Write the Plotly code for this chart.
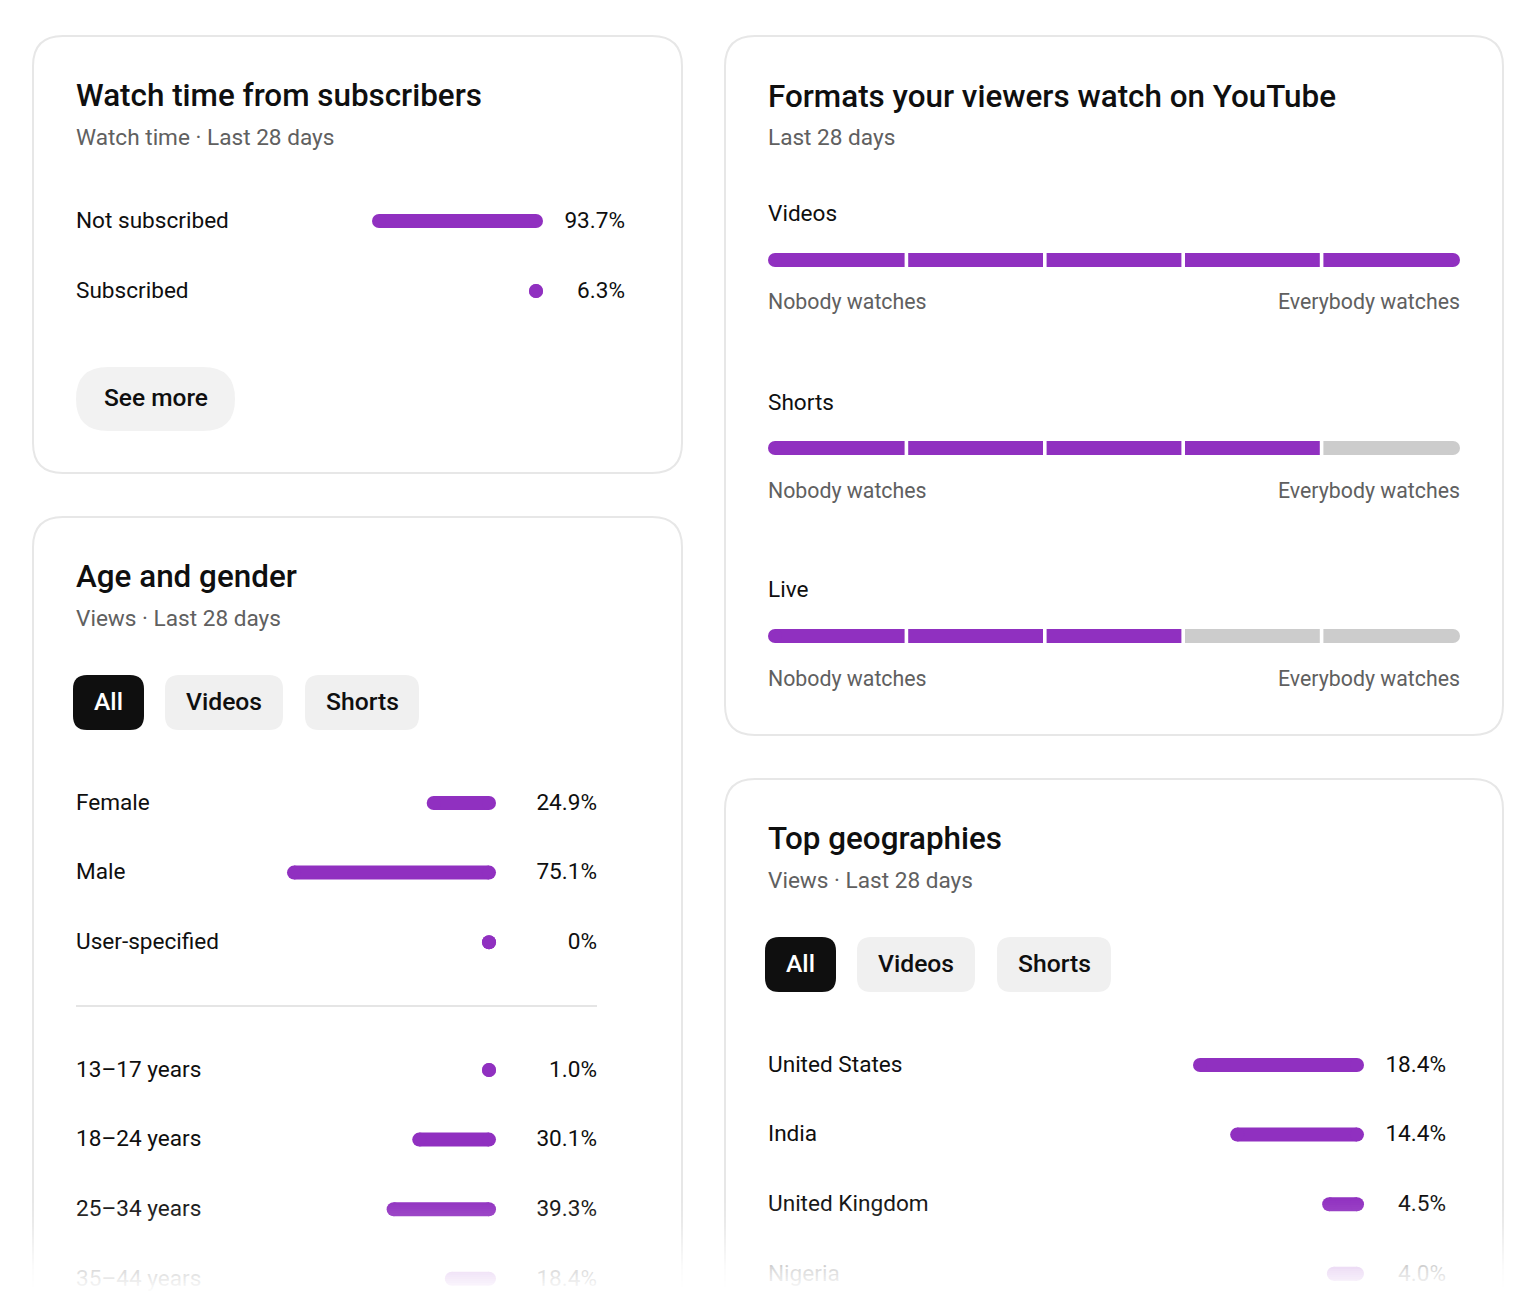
import plotly.graph_objects as go

W = 1536
H = 1314
PURPLE = "#9030c0"
GREY_BAR = "#cccccc"
INK = "#0f0f0f"
MUTED = "#606060"
FONT = "Roboto"
BAR_PX = 14
BODY = 22.6
TITLE = 31.4
HINT = 21.3

sub_labels = ["Not subscribed", "Subscribed"]
sub_values = [93.7, 6.3]

gender_labels = ["Female", "Male", "User-specified"]
gender_values = [24.9, 75.1, 0]

age_labels = ["13–17 years", "18–24 years", "25–34 years", "35–44 years"]
age_values = [1.0, 30.1, 39.3, 18.4]

geo_labels = ["United States", "India", "United Kingdom", "Nigeria"]
geo_values = [18.4, 14.4, 4.5, 4.0]

format_labels = ["Videos", "Shorts", "Live"]
format_levels = [5, 4, 3]
format_segments = 5

filter_labels = ["All", "Videos", "Shorts"]

fig = go.Figure()
shapes = []
annotations = []
axis_count = 0


def px_x(x):
    return x / W


def px_y(y):
    return 1 - y / H


def rounded(x0, y0, x1, y1, r):
    a, b, c, d = px_x(x0), px_y(y0), px_x(x1), px_y(y1)
    rx, ry = r / W, r / H
    return (
        f"M {a + rx} {b} L {c - rx} {b} Q {c} {b} {c} {b - ry} "
        f"L {c} {d + ry} Q {c} {d} {c - rx} {d} "
        f"L {a + rx} {d} Q {a} {d} {a} {d + ry} "
        f"L {a} {b - ry} Q {a} {b} {a + rx} {b} Z"
    )


def add_box(x0, y0, x1, y1, r, fill="rgba(0,0,0,0)", border=None):
    shapes.append(
        dict(
            type="path",
            xref="paper",
            yref="paper",
            path=rounded(x0, y0, x1, y1, r),
            fillcolor=fill,
            line=dict(color=border or fill, width=2 if border else 0),
            layer="below",
        )
    )


def add_text(x, y, text, size=BODY, color=INK, weight=400, anchor="left"):
    annotations.append(
        dict(
            x=px_x(x),
            y=px_y(y),
            xref="paper",
            yref="paper",
            text=text,
            showarrow=False,
            xanchor=anchor,
            yanchor="middle",
            font=dict(family=FONT, size=size, color=color, weight=weight),
            borderpad=0,
            borderwidth=0,
        )
    )


def new_axes(left, right, top, bottom, x_range, y_range):
    global axis_count
    axis_count += 1
    n = "" if axis_count == 1 else str(axis_count)
    fig.update_layout(
        {
            "xaxis" + n: dict(
                domain=[px_x(left), px_x(right)],
                range=x_range,
                visible=False,
                anchor="y" + n,
                fixedrange=True,
            ),
            "yaxis" + n: dict(
                domain=[px_y(bottom), px_y(top)],
                range=y_range,
                visible=False,
                anchor="x" + n,
                fixedrange=True,
            ),
        }
    )
    return "x" + n, "y" + n


def add_rows(labels, values, left, right, zero, scale, first, gap):
    # bars grow leftwards from zero, axis is reversed
    n = len(labels)
    x_left = (zero - left) / scale
    x_right = -(right - zero) / scale
    xa, ya = new_axes(
        left, right, first - gap / 2, first + gap * (n - 0.5),
        [x_left, x_right], [n - 0.5, -0.5],
    )
    inset = (BAR_PX / 2) / scale
    xs, ys = [], []
    for i, v in enumerate(values):
        xs += [inset, max(v - inset, inset), None]
        ys += [i, i, None]
    fig.add_trace(
        go.Scatter(
            x=xs, y=ys, mode="lines+markers", xaxis=xa, yaxis=ya,
            line=dict(color=PURPLE, width=BAR_PX),
            marker=dict(color=PURPLE, size=BAR_PX, line=dict(width=0)),
            showlegend=False, hoverinfo="skip",
        )
    )
    font = dict(family=FONT, size=BODY, color=INK)
    text_rows = [i + 1.2 / gap for i in range(n)]
    fig.add_trace(
        go.Scatter(
            x=[x_left] * n, y=text_rows, mode="text", text=labels,
            textposition="middle right", textfont=font, xaxis=xa, yaxis=ya,
            cliponaxis=False, showlegend=False, hoverinfo="skip",
        )
    )
    fig.add_trace(
        go.Scatter(
            x=[x_right] * n, y=text_rows, mode="text",
            text=[f"{v:g}%" if v == 0 else f"{v:.1f}%" for v in values],
            textposition="middle left", textfont=font, xaxis=xa, yaxis=ya,
            cliponaxis=False, showlegend=False, hoverinfo="skip",
        )
    )


def add_filters(x0, top):
    spans = [(x0, x0 + 71), (x0 + 92, x0 + 210), (x0 + 232, x0 + 346)]
    for i, (a, b) in enumerate(zip(filter_labels, spans)):
        on = i == 0
        add_box(b[0], top, b[1], top + 55, 14, fill=INK if on else "#f0f0f0")
        add_text((b[0] + b[1]) / 2, top + 26, a, size=24.7, weight=500,
                 color="#ffffff" if on else INK, anchor="center")


# cards
add_box(33, 36, 682, 473, 30, fill="#ffffff", border="#e7e7e7")
add_box(33, 517, 682, 1420, 30, fill="#ffffff", border="#e7e7e7")
add_box(725, 36, 1503, 735, 30, fill="#ffffff", border="#e7e7e7")
add_box(725, 779, 1503, 1420, 30, fill="#ffffff", border="#e7e7e7")

# subscribers card
add_text(76, 95.5, "Watch time from subscribers", size=TITLE, weight=500)
add_text(76, 137, "Watch time · Last 28 days", color=MUTED)
add_rows(sub_labels, sub_values, 76, 625, 543, 171 / 93.7, 221, 70)
add_box(76, 367, 235, 431, 32, fill="#f2f2f2")
add_text(155.5, 397.5, "See more", size=24.5, weight=500, anchor="center")

# age and gender card
add_text(76, 576.5, "Age and gender", size=TITLE, weight=500)
add_text(76, 618, "Views · Last 28 days", color=MUTED)
add_filters(73, 675)
add_rows(gender_labels, gender_values, 76, 597, 496, 209 / 75.1, 803, 69.6)
shapes.append(
    dict(
        type="line", xref="paper", yref="paper", layer="below",
        x0=px_x(76), x1=px_x(597), y0=px_y(1006), y1=px_y(1006),
        line=dict(color="#e5e5e5", width=2),
    )
)
add_rows(age_labels, age_values, 76, 597, 496, 209 / 75.1, 1070, 69.6)

# formats card
add_text(768, 96, "Formats your viewers watch on YouTube", size=TITLE, weight=500)
add_text(768, 137.5, "Last 28 days", color=MUTED)
fmt_gap = 188
xa, ya = new_axes(
    768, 1460, 260 - fmt_gap / 2, 260 + fmt_gap * 2.5,
    [0, format_segments], [2.5, -0.5],
)
unit_px = 692 / format_segments
for row, level in enumerate(format_levels):
    y_px = 260 + row * fmt_gap
    add_text(768, y_px - 46, format_labels[row])
    add_text(768, y_px + 42, "Nobody watches", size=HINT, color=MUTED)
    add_text(1460, y_px + 42, "Everybody watches", size=HINT, color=MUTED, anchor="right")
    for seg in range(format_segments):
        color = PURPLE if seg < level else GREY_BAR
        start = seg + 1.8 / unit_px if seg else (BAR_PX / 2) / unit_px
        end = seg + 1 - 1.8 / unit_px
        if seg == format_segments - 1:
            end = format_segments - (BAR_PX / 2) / unit_px
        fig.add_trace(
            go.Scatter(
                x=[start, end], y=[row, row], mode="lines", xaxis=xa, yaxis=ya,
                line=dict(color=color, width=BAR_PX),
                showlegend=False, hoverinfo="skip",
            )
        )
        caps = []
        if seg == 0:
            caps.append(start)
        if seg == format_segments - 1:
            caps.append(end)
        if caps:
            fig.add_trace(
                go.Scatter(
                    x=caps, y=[row] * len(caps), mode="markers", xaxis=xa, yaxis=ya,
                    marker=dict(color=color, size=BAR_PX, line=dict(width=0)),
                    showlegend=False, hoverinfo="skip",
                )
            )

# geographies card
add_text(768, 838.5, "Top geographies", size=TITLE, weight=500)
add_text(768, 880, "Views · Last 28 days", color=MUTED)
add_filters(765, 937)
add_rows(geo_labels, geo_values, 768, 1446, 1364, 171 / 18.4, 1065, 69.6)

# white fade over the bottom of the page
fade_stops = [(1195, 0.0), (1222, 0.15), (1268, 0.85), (1292, 1.0)]
for y in range(1195, H, 2):
    alpha = 1.0
    for (y0, a0), (y1, a1) in zip(fade_stops, fade_stops[1:]):
        if y0 <= y < y1:
            alpha = a0 + (a1 - a0) * (y - y0) / (y1 - y0)
            break
    shapes.append(
        dict(
            type="rect", xref="paper", yref="paper", layer="above",
            x0=0, x1=1, y0=px_y(y), y1=px_y(y + 2),
            fillcolor="#ffffff", opacity=round(alpha, 3), line=dict(width=0),
        )
    )

fig.update_layout(
    width=W,
    height=H,
    margin=dict(l=0, r=0, t=0, b=0),
    paper_bgcolor="#ffffff",
    plot_bgcolor="rgba(0,0,0,0)",
    showlegend=False,
    shapes=shapes,
    annotations=annotations,
)

fig.write_html(
    "out.html",
    config={"displayModeBar": False},
    post_script="document.body.style.margin='0';",
)
